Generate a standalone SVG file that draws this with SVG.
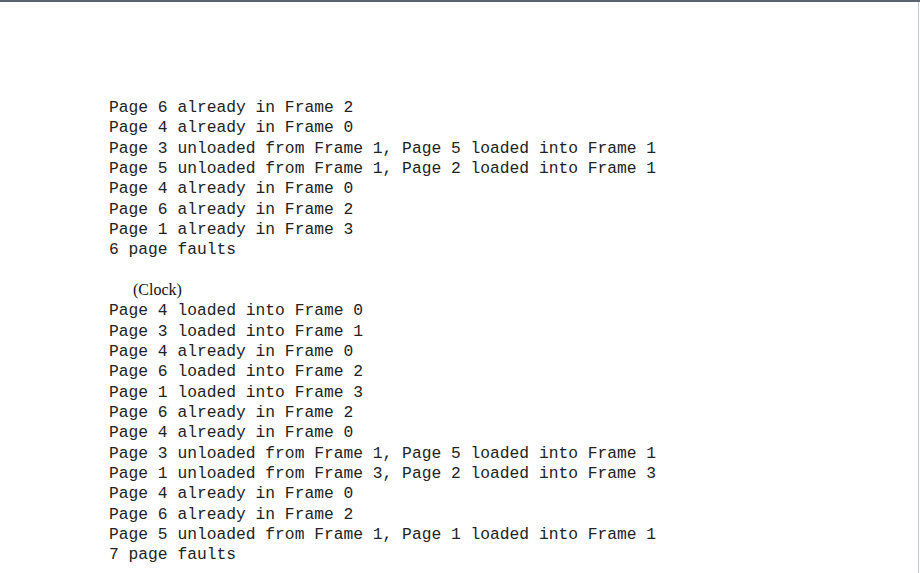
<svg xmlns="http://www.w3.org/2000/svg" width="920" height="573" viewBox="0 0 920 573">
<style>
.m{font-family:"Liberation Mono","Courier New",monospace;font-size:16.3px;fill:#222;white-space:pre}
.s{font-family:"Liberation Serif","Times New Roman",serif;font-size:16px;fill:#111}
</style>
<rect width="920" height="573" fill="#fff"/>
<rect x="0" y="0" width="920" height="2" fill="#5a6470"/>
<rect x="918" y="2" width="1" height="571" fill="#c4c8cf"/>
<g id="fifo">
<text class="m" x="109" y="112">Page 6 already in Frame 2</text>
<text class="m" x="109" y="132.3">Page 4 already in Frame 0</text>
<text class="m" x="109" y="152.7">Page 3 unloaded from Frame 1, Page 5 loaded into Frame 1</text>
<text class="m" x="109" y="173">Page 5 unloaded from Frame 1, Page 2 loaded into Frame 1</text>
<text class="m" x="109" y="193.3">Page 4 already in Frame 0</text>
<text class="m" x="109" y="213.7">Page 6 already in Frame 2</text>
<text class="m" x="109" y="234">Page 1 already in Frame 3</text>
<text class="m" x="109" y="254.3">6 page faults</text>
</g>
<g id="clock">
<text class="s" x="133" y="295">(Clock)</text>
<text class="m" x="109" y="315.3">Page 4 loaded into Frame 0</text>
<text class="m" x="109" y="335.7">Page 3 loaded into Frame 1</text>
<text class="m" x="109" y="356">Page 4 already in Frame 0</text>
<text class="m" x="109" y="376.3">Page 6 loaded into Frame 2</text>
<text class="m" x="109" y="396.7">Page 1 loaded into Frame 3</text>
<text class="m" x="109" y="417">Page 6 already in Frame 2</text>
<text class="m" x="109" y="437.3">Page 4 already in Frame 0</text>
<text class="m" x="109" y="457.7">Page 3 unloaded from Frame 1, Page 5 loaded into Frame 1</text>
<text class="m" x="109" y="478">Page 1 unloaded from Frame 3, Page 2 loaded into Frame 3</text>
<text class="m" x="109" y="498.3">Page 4 already in Frame 0</text>
<text class="m" x="109" y="518.7">Page 6 already in Frame 2</text>
<text class="m" x="109" y="539">Page 5 unloaded from Frame 1, Page 1 loaded into Frame 1</text>
<text class="m" x="109" y="559.3">7 page faults</text>
</g>
</svg>
